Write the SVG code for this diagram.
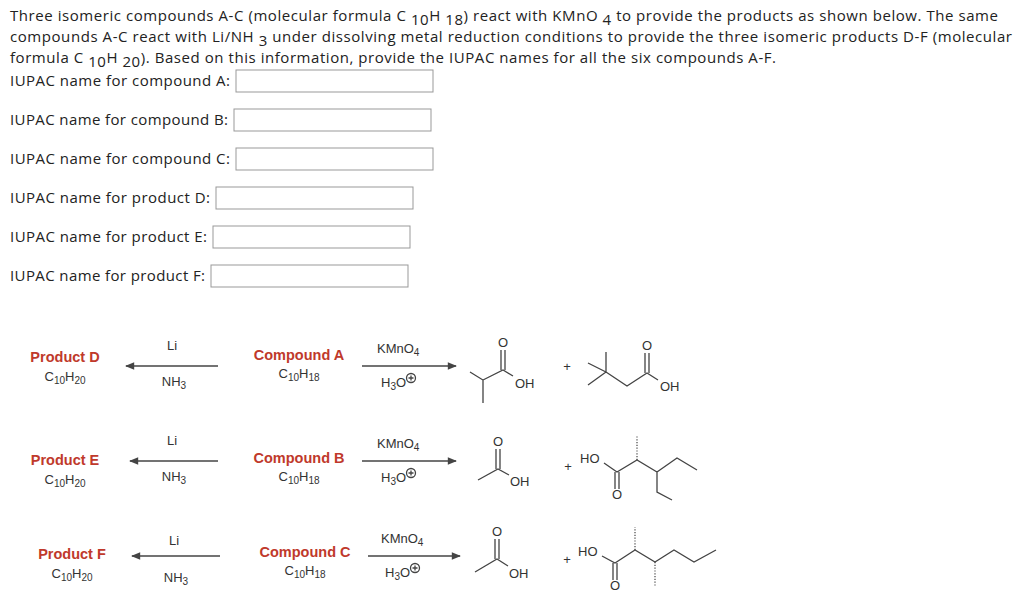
<svg xmlns="http://www.w3.org/2000/svg" width="1024" height="615" viewBox="0 0 1024 615">
<defs>
<style>
.t{font-family:"Open Sans","DejaVu Sans",sans-serif;font-size:15px;fill:#222}
.s{font-family:"Liberation Sans",Arial,sans-serif;font-size:13px;fill:#333}
.red{font-family:"Liberation Sans",Arial,sans-serif;font-size:14.5px;font-weight:bold;fill:#c0392b}
.box{fill:#fff;stroke:#999;stroke-width:1}
.b{stroke:#444;stroke-width:1.3;fill:none}
.h{stroke:#444;stroke-width:1.2;stroke-dasharray:1.2 1.6;fill:none}
.ar{stroke:#444;stroke-width:1.3}
</style>
<marker id="ah" viewBox="0 0 10 10" refX="9" refY="5" markerWidth="9" markerHeight="7" orient="auto-start-reverse"><path d="M0,1 L10,5 L0,9 z" fill="#444"/></marker>
</defs>
<rect width="1024" height="615" fill="#fff"/>
<g id="question">
<text class="t" x="10" y="21" textLength="988" lengthAdjust="spacing">Three isomeric compounds A-C (molecular formula C <tspan dy="4">10</tspan><tspan dy="-4">H </tspan><tspan dy="4">18</tspan><tspan dy="-4">) react with KMnO </tspan><tspan dy="4">4</tspan><tspan dy="-4"> to provide the products as shown below. The same</tspan></text>
<text class="t" x="10" y="42" textLength="1002" lengthAdjust="spacing">compounds A-C react with Li/NH <tspan dy="4">3</tspan><tspan dy="-4"> under dissolving metal reduction conditions to provide the three isomeric products D-F (molecular</tspan></text>
<text class="t" x="10" y="63" textLength="766" lengthAdjust="spacing">formula C <tspan dy="4">10</tspan><tspan dy="-4">H </tspan><tspan dy="4">20</tspan><tspan dy="-4">). Based on this information, provide the IUPAC names for all the six compounds A-F.</tspan></text>
<text class="t" x="10" y="86" textLength="220" lengthAdjust="spacing">IUPAC name for compound A:</text><rect class="box" x="236" y="70" width="197" height="22"/>
<text class="t" x="10" y="125" textLength="218" lengthAdjust="spacing">IUPAC name for compound B:</text><rect class="box" x="234" y="109" width="197" height="22"/>
<text class="t" x="10" y="164" textLength="220" lengthAdjust="spacing">IUPAC name for compound C:</text><rect class="box" x="236" y="148" width="197" height="22"/>
<text class="t" x="10" y="203" textLength="200" lengthAdjust="spacing">IUPAC name for product D:</text><rect class="box" x="216" y="187" width="197" height="22"/>
<text class="t" x="10" y="242" textLength="197" lengthAdjust="spacing">IUPAC name for product E:</text><rect class="box" x="213" y="226" width="197" height="22"/>
<text class="t" x="10" y="281" textLength="195" lengthAdjust="spacing">IUPAC name for product F:</text><rect class="box" x="211" y="265" width="197" height="22"/>
</g>
<g id="connectors">
<line class="ar" x1="218" y1="366" x2="126" y2="366" marker-end="url(#ah)"/>
<line class="ar" x1="218" y1="461" x2="130" y2="461" marker-end="url(#ah)"/>
<line class="ar" x1="220" y1="556" x2="132" y2="556" marker-end="url(#ah)"/>
<line class="ar" x1="362" y1="366" x2="456" y2="366" marker-end="url(#ah)"/>
<line class="ar" x1="362" y1="461" x2="456" y2="461" marker-end="url(#ah)"/>
<line class="ar" x1="368" y1="556" x2="460" y2="556" marker-end="url(#ah)"/>
<text class="s" x="172" y="350" text-anchor="middle">Li</text>
<text class="s" x="174" y="386" text-anchor="middle">NH<tspan dy="3" font-size="10">3</tspan></text>
<text class="s" x="172" y="445" text-anchor="middle">Li</text>
<text class="s" x="174" y="481" text-anchor="middle">NH<tspan dy="3" font-size="10">3</tspan></text>
<text class="s" x="174" y="545" text-anchor="middle">Li</text>
<text class="s" x="176" y="582" text-anchor="middle">NH<tspan dy="3" font-size="10">3</tspan></text>
<text class="s" x="377" y="353">KMnO<tspan dy="3" font-size="10">4</tspan></text>
<text class="s" x="381" y="387">H<tspan dy="3" font-size="10">3</tspan><tspan dy="-3">O</tspan></text>
<text class="s" x="377" y="448">KMnO<tspan dy="3" font-size="10">4</tspan></text>
<text class="s" x="381" y="482">H<tspan dy="3" font-size="10">3</tspan><tspan dy="-3">O</tspan></text>
<text class="s" x="381" y="543">KMnO<tspan dy="3" font-size="10">4</tspan></text>
<text class="s" x="385" y="577">H<tspan dy="3" font-size="10">3</tspan><tspan dy="-3">O</tspan></text>
<g class="b"><circle cx="411" cy="378" r="4.5"/><circle cx="411" cy="473" r="4.5"/><circle cx="415" cy="568" r="4.5"/></g>
<g class="b" stroke-width="1"><path d="M408.5,378h5M411,375.5v5M408.5,473h5M411,470.5v5M412.5,568h5M415,565.5v5"/></g>
</g>
<g id="nodeD"><text class="red" x="65" y="362" text-anchor="middle">Product D</text><text class="s" x="65" y="381" text-anchor="middle">C<tspan dy="3" font-size="10">10</tspan><tspan dy="-3">H</tspan><tspan dy="3" font-size="10">20</tspan></text></g>
<g id="nodeE"><text class="red" x="65" y="465" text-anchor="middle">Product E</text><text class="s" x="65" y="484" text-anchor="middle">C<tspan dy="3" font-size="10">10</tspan><tspan dy="-3">H</tspan><tspan dy="3" font-size="10">20</tspan></text></g>
<g id="nodeF"><text class="red" x="72" y="559" text-anchor="middle">Product F</text><text class="s" x="72" y="578" text-anchor="middle">C<tspan dy="3" font-size="10">10</tspan><tspan dy="-3">H</tspan><tspan dy="3" font-size="10">20</tspan></text></g>
<g id="nodeA"><text class="red" x="299" y="360" text-anchor="middle">Compound A</text><text class="s" x="299" y="378" text-anchor="middle">C<tspan dy="3" font-size="10">10</tspan><tspan dy="-3">H</tspan><tspan dy="3" font-size="10">18</tspan></text></g>
<g id="nodeB"><text class="red" x="299" y="463" text-anchor="middle">Compound B</text><text class="s" x="299" y="481" text-anchor="middle">C<tspan dy="3" font-size="10">10</tspan><tspan dy="-3">H</tspan><tspan dy="3" font-size="10">18</tspan></text></g>
<g id="nodeC"><text class="red" x="305" y="557" text-anchor="middle">Compound C</text><text class="s" x="305" y="575" text-anchor="middle">C<tspan dy="3" font-size="10">10</tspan><tspan dy="-3">H</tspan><tspan dy="3" font-size="10">18</tspan></text></g>
<g id="productsA">
<path class="b" d="M470,372L483,380V403M483,380L503,370L513,376M501,370V350M505,370V350"/>
<text class="s" x="503" y="347" text-anchor="middle">O</text><text class="s" x="515" y="388">OH</text>
<text class="s" x="567" y="371" text-anchor="middle" font-size="10">+</text>
<path class="b" d="M606,352V372L588,363M606,372L588,385M606,372L627,386L647,373L658,380M645,373V353M649,373V353"/>
<text class="s" x="647" y="350" text-anchor="middle">O</text><text class="s" x="660" y="391">OH</text>
</g>
<g id="productsB">
<path class="b" d="M478,480L498,469L509,475M496,469V449M500,469V449"/>
<text class="s" x="498" y="446" text-anchor="middle">O</text><text class="s" x="510" y="486">OH</text>
<text class="s" x="568" y="471" text-anchor="middle" font-size="10">+</text>
<text class="s" x="580" y="463">HO</text>
<path class="b" d="M604,463L617,472L637,460L657,472L677,458L697,470M657,472V492L672,500M615,472V489M619,472V489"/>
<path class="h" d="M637,460V436"/>
<text class="s" x="617" y="499" text-anchor="middle">O</text>
</g>
<g id="productsC">
<path class="b" d="M475,572L497,559L508,566M495,559V539M499,559V539"/>
<text class="s" x="497" y="536" text-anchor="middle">O</text><text class="s" x="509" y="578">OH</text>
<text class="s" x="567" y="564" text-anchor="middle" font-size="10">+</text>
<text class="s" x="578" y="556">HO</text>
<path class="b" d="M602,556L615,563L635,550L655,562L674,550L694,562L716,550M613,563V580M617,563V580"/>
<path class="h" d="M635,550V527M655,562V587"/>
<text class="s" x="615" y="590" text-anchor="middle">O</text>
</g>
</svg>
